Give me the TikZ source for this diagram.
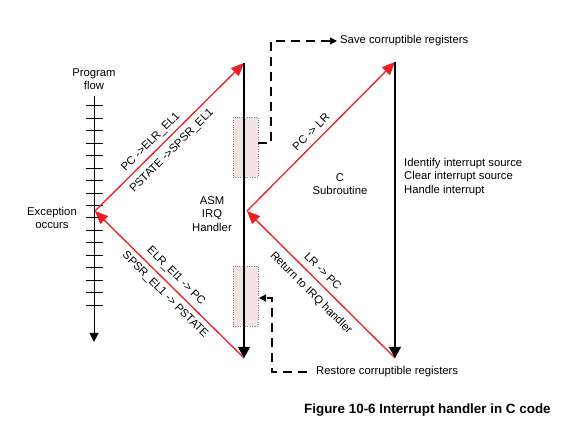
\documentclass[tikz,border=0pt]{standalone}
\usepackage{fontspec}
\setmainfont{Liberation Sans}
\usetikzlibrary{arrows.meta}
\pgfdeclarelayer{boxlayer}
\pgfdeclarelayer{edgelayer}
\pgfdeclarelayer{nodelayer}
\pgfsetlayers{boxlayer,edgelayer,nodelayer,main}
\definecolor{flowred}{RGB}{236,30,36}
\definecolor{regpink}{RGB}{242,226,226}
\tikzstyle{none}=[inner sep=0pt]
\tikzstyle{txt}=[inner sep=0pt, font=\fontsize{11.3}{13.6}\selectfont, align=center]
\tikzstyle{regbox}=[draw=gray, dotted, fill=regpink, minimum width=25pt, minimum height=60pt, inner sep=0pt]
\tikzstyle{redarrow}=[draw=flowred, line width=1.3pt, -{Triangle[length=13pt,width=11pt]}]
\tikzstyle{blackarrow}=[draw=black, line width=1.3pt, -{Triangle[length=11pt,width=12pt]}]
\tikzstyle{flowline}=[draw=black, line width=1pt, -{Triangle[length=9pt,width=9pt]}]
\tikzstyle{dasharrow}=[draw=black, line width=1.2pt, dash pattern=on 9pt off 6pt, -{Triangle[length=7pt,width=7pt]}]

\begin{document}
\begin{tikzpicture}[x=1pt, y=-1pt]
			\useasboundingbox (0,0) rectangle (571,427);
			\begin{pgfonlayer}{nodelayer}
			\node [style=none] (0) at (94, 96) {};
			\node [style=none] (1) at (94, 342) {};
			\node [style=txt] (2) at (94, 79) {Program\\flow};
			\node [style=txt] (3) at (52, 218) {Exception\\occurs};
			\node [style=none] (4) at (95, 211) {};
			\node [style=none] (5) at (244, 63) {};
			\node [style=none] (6) at (244, 358) {};
			\node [style=txt] (7) at (212, 214) {ASM\\IRQ\\Handler};
			\node [style=none] (8) at (247, 211) {};
			\node [style=none] (9) at (395, 62) {};
			\node [style=none] (10) at (395, 358) {};
			\node [style=txt] (11) at (340, 184) {C\\Subroutine};
			\node [style=txt, anchor=west, align=left] (12) at (404, 177) {Identify interrupt source\\Clear interrupt source\\Handle interrupt};
			\node [style=none] (15) at (258, 143) {};
			\node [style=none] (16) at (271, 143) {};
			\node [style=none] (17) at (271, 41) {};
			\node [style=txt, anchor=west] (18) at (340, 41) {Save corruptible registers};
			\node [style=none] (19) at (259, 298) {};
			\node [style=none] (20) at (272, 298) {};
			\node [style=none] (21) at (272, 372) {};
			\node [style=txt, anchor=west] (22) at (316, 372) {Restore corruptible registers};
			\node [style=txt, rotate=45] (23) at (151, 142) {PC ->ELR\_EL1};
			\node [style=txt, rotate=45] (24) at (172, 151) {PSTATE ->SPSR\_EL1};
			\node [style=txt, rotate=-45] (25) at (176, 276) {ELR\_El1 -> PC};
			\node [style=txt, rotate=-45] (26) at (165, 295) {SPSR\_EL1 -> PSTATE};
			\node [style=txt, rotate=45] (27) at (311, 132) {PC -> LR};
			\node [style=txt, rotate=-45] (28) at (323, 271) {LR -> PC};
			\node [style=txt, rotate=-45] (29) at (311, 293) {Return to IRQ handler};
			\node [style=txt, font=\bfseries\fontsize{13.4}{15}\selectfont, anchor=west] (30) at (304, 410) {Figure 10-6 Interrupt handler in C code};
			\end{pgfonlayer}
			\begin{pgfonlayer}{boxlayer}
			\node [style=regbox] (13) at (245.5, 147) {};
			\node [style=regbox] (14) at (245.5, 296) {};
			\end{pgfonlayer}
			\begin{pgfonlayer}{edgelayer}
			\draw [style=flowline] (0.center) to (1.center);
			\foreach \i in {0,...,16}
				\draw [line width=1pt] (86, {106+12.44*\i}) -- (103, {106+12.44*\i});
			\draw [style=redarrow] (4.center) to (5.center);
			\draw [style=redarrow] (6.center) to (4.center);
			\draw [style=blackarrow] (5.center) to (6.center);
			\draw [style=redarrow] (8.center) to (9.center);
			\draw [style=redarrow] (10.center) to (8.center);
			\draw [style=blackarrow] (9.center) to (10.center);
			\draw [style=dasharrow, shorten >=3pt] (15.center) -- (16.center) -- (17.center) -- (18.west);
			\draw [style=dasharrow, shorten <=9pt] (22.west) -- (21.center) -- (20.center) -- (19.center);
			\end{pgfonlayer}
			\end{tikzpicture}
\end{document}
